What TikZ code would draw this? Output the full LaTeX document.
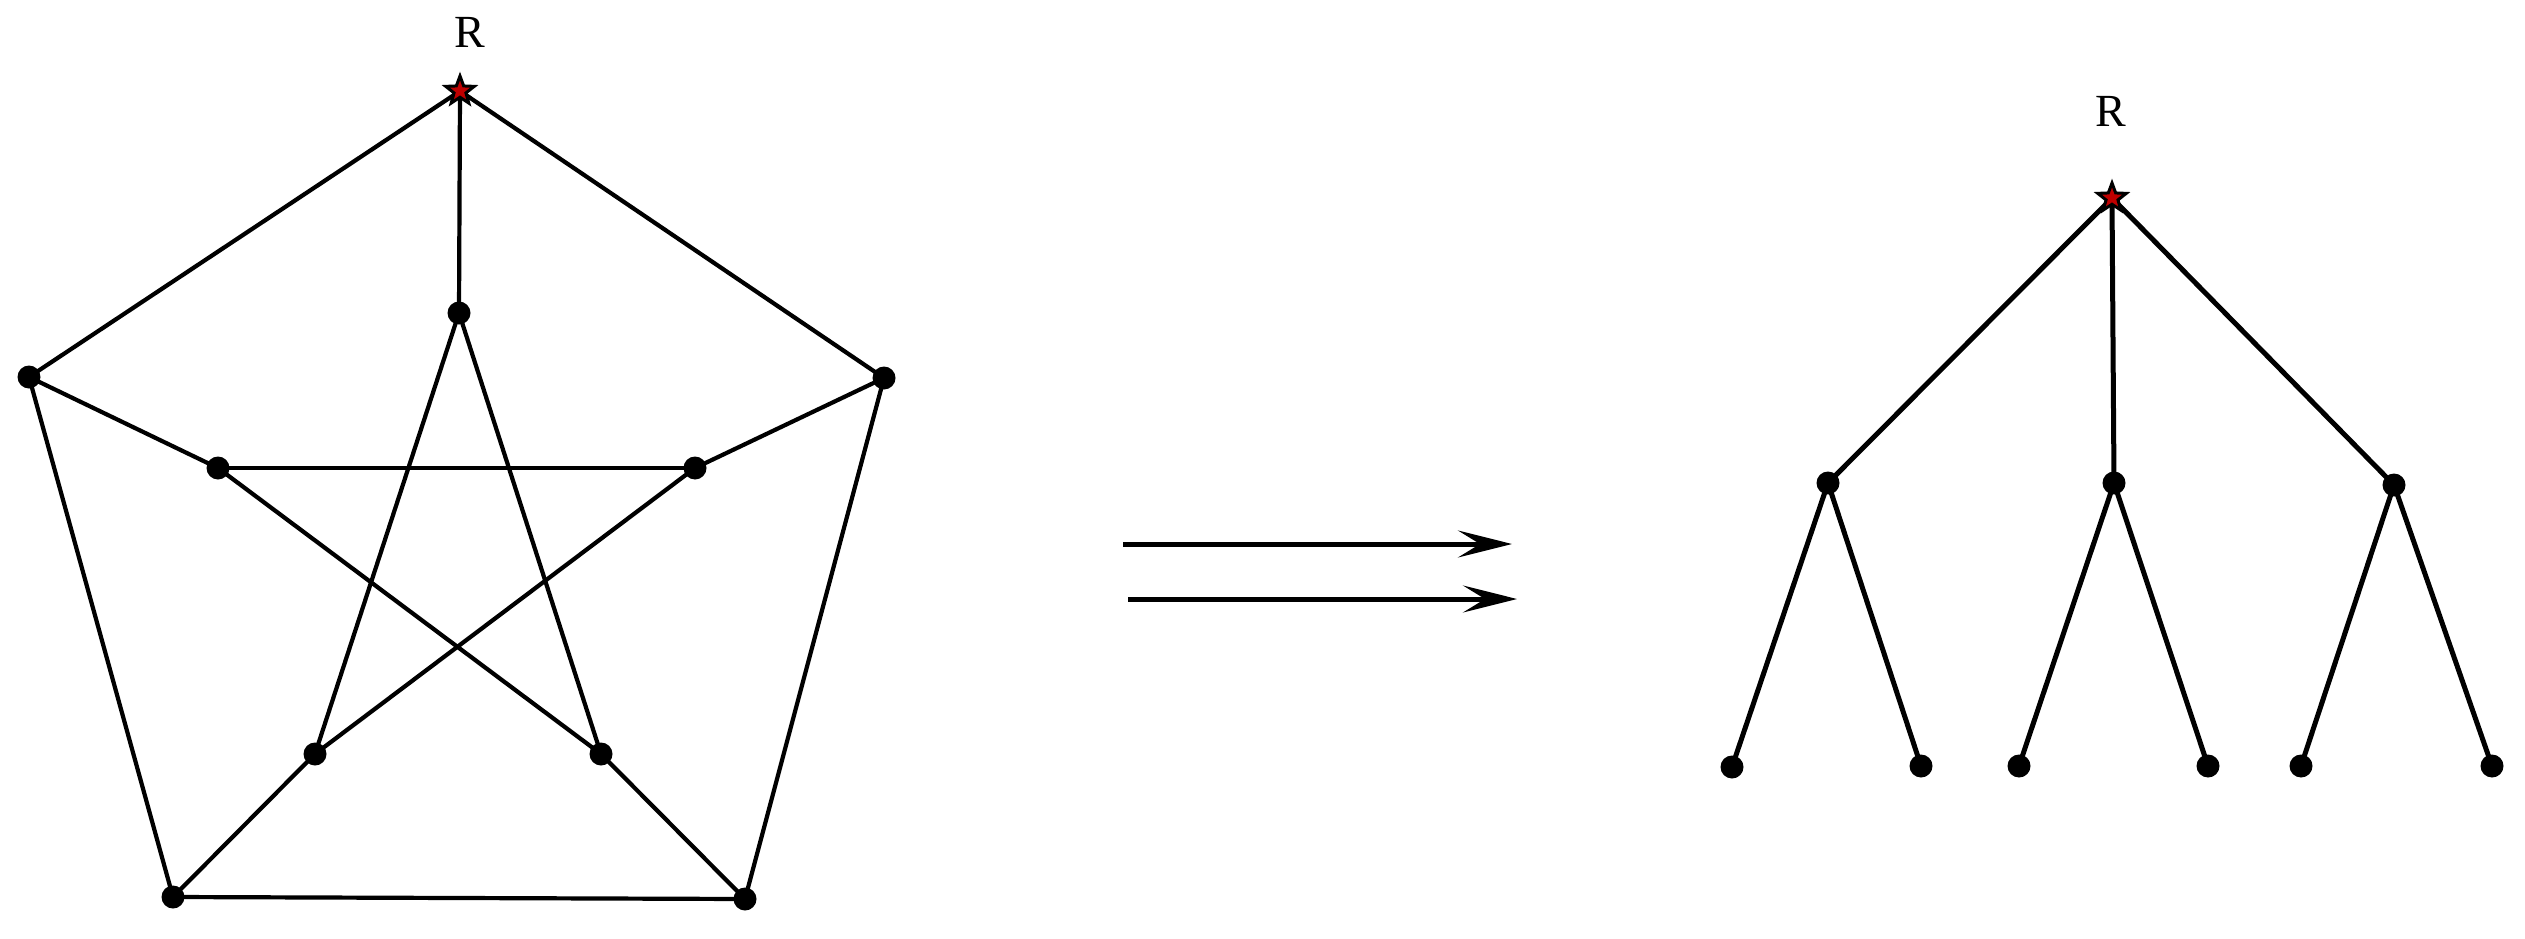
\documentclass[tikz,border=0pt]{standalone}
\usepackage{fontspec}
\setmainfont{Liberation Serif}
\usetikzlibrary{shapes.geometric,arrows.meta,backgrounds}
\begin{document}
\begin{tikzpicture}[x=1pt,y=-1pt,
  dot/.style={circle,fill=black,inner sep=0pt,minimum size=23pt},
  rootstar/.style={star,star points=5,star point ratio=2.4,draw=black,fill=red!75!black,line width=3pt,inner sep=0pt,minimum size=30pt},
  lbl/.style={font=\fontsize{46}{50}\selectfont,inner sep=0pt},
  gedge/.style={line width=4.2pt},
  tedge/.style={line width=5pt},
  bigarrow/.style={line width=5pt,-{Stealth[length=54pt,width=27pt,inset=22pt]}}]
\useasboundingbox (0,0) rectangle (2525,939);
% left graph
\node[rootstar] (R) at (460,91) {};
\node[lbl] (Rl) at (470,32) {R};
\node[dot] (OL) at (29,377) {};
\node[dot] (OR) at (884,378) {};
\node[dot] (OBL) at (173,897) {};
\node[dot] (OBR) at (745,899) {};
\node[dot] (IT) at (459,313) {};
\node[dot] (IL) at (218,468) {};
\node[dot] (IR) at (695,468) {};
\node[dot] (IBL) at (315,754) {};
\node[dot] (IBR) at (601,754) {};
% right tree
\node[rootstar] (T) at (2112,198) {};
\node[lbl] (Tl) at (2111,111) {R};
\node[dot] (A) at (1828,483) {};
\node[dot] (B) at (2114,483) {};
\node[dot] (C) at (2394,485) {};
\node[dot] (A1) at (1732,767) {};
\node[dot] (A2) at (1921,766) {};
\node[dot] (B1) at (2019,766) {};
\node[dot] (B2) at (2208,766) {};
\node[dot] (C1) at (2301,766) {};
\node[dot] (C2) at (2492,766) {};
% arrows
\coordinate (a1s) at (1123,544);
\coordinate (a1e) at (1512,544);
\coordinate (a2s) at (1128,599);
\coordinate (a2e) at (1517,599);
\draw[bigarrow] (a1s) -- (a1e);
\draw[bigarrow] (a2s) -- (a2e);
\begin{scope}[on background layer]
\draw[gedge] (R.center) -- (OL.center) -- (OBL.center) -- (OBR.center) -- (OR.center) -- (R.center);
\draw[gedge] (R.center) -- (IT.center);
\draw[gedge] (OL.center) -- (IL.center);
\draw[gedge] (OR.center) -- (IR.center);
\draw[gedge] (OBL.center) -- (IBL.center);
\draw[gedge] (OBR.center) -- (IBR.center);
\draw[gedge] (IT.center) -- (IBL.center);
\draw[gedge] (IT.center) -- (IBR.center);
\draw[gedge] (IL.center) -- (IR.center);
\draw[gedge] (IL.center) -- (IBR.center);
\draw[gedge] (IR.center) -- (IBL.center);
\draw[tedge] (T.center) -- (A.center);
\draw[tedge] (T.center) -- (B.center);
\draw[tedge] (T.center) -- (C.center);
\draw[tedge] (A.center) -- (A1.center);
\draw[tedge] (A.center) -- (A2.center);
\draw[tedge] (B.center) -- (B1.center);
\draw[tedge] (B.center) -- (B2.center);
\draw[tedge] (C.center) -- (C1.center);
\draw[tedge] (C.center) -- (C2.center);
\end{scope}
\end{tikzpicture}
\end{document}
